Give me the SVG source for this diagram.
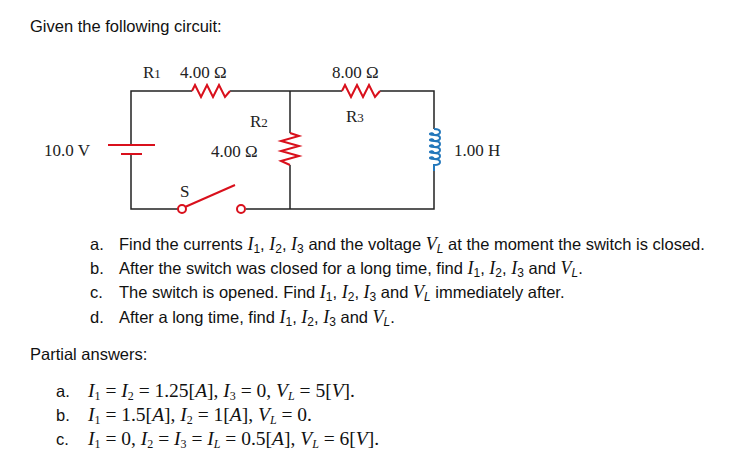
<svg xmlns="http://www.w3.org/2000/svg" width="741" height="465" viewBox="0 0 741 465">
<style>
.w{stroke:#222;stroke-width:1.5;fill:none}
.r{stroke:#d9101c;stroke-width:2;fill:none}
.t{font-family:"Liberation Sans",Arial,sans-serif;font-size:16.5px;fill:#111}
.c{font-family:"Liberation Serif",serif;font-size:17px;fill:#222}
.m{font-family:"Liberation Serif",serif;font-size:19.5px;fill:#111}
.i{font-family:"Liberation Serif",serif;font-style:italic;font-size:18px}
.s{font-size:12px;baseline-shift:-3px}
</style>
<rect width="741" height="465" fill="#fff"/>
<g id="connectors">
<polyline class="w" points="131,145 131,91 192,91"/>
<polyline class="w" points="230,91 342,91"/>
<polyline class="w" points="380,91 434,91 434,129"/>
<polyline class="w" points="434,171 434,209 246,209"/>
<polyline class="w" points="131,154 131,209 178,209"/>
<line class="w" x1="290" y1="91" x2="290" y2="133"/>
<line class="w" x1="290" y1="165" x2="290" y2="209"/>
</g>
<g id="R1"><polyline class="r" points="192,91 195,85 201,97 207,85 213,97 219,85 225,97 230,91"/><text class="c" x="143" y="78">R<tspan font-size="13">1</tspan></text><text class="c" x="180" y="78">4.00 Ω</text></g>
<g id="R3"><polyline class="r" points="342,91 345,85 351,97 357,85 363,97 369,85 375,97 380,91"/><text class="c" x="332" y="78">8.00 Ω</text><text class="c" x="346" y="122">R<tspan font-size="13">3</tspan></text></g>
<g id="R2"><polyline class="r" points="290,133 299,136 281,141 299,146 281,151 299,156 281,161 290,165"/><text class="c" x="250" y="127">R<tspan font-size="13">2</tspan></text><text class="c" x="211" y="157">4.00 Ω</text></g>
<g id="battery"><line class="r" x1="108" y1="145" x2="155" y2="145" stroke-width="1.2"/><line class="r" x1="121" y1="154" x2="142" y2="154" stroke-width="4"/><text class="c" x="44" y="156">10.0 V</text></g>
<g id="L"><path d="M434,129 c8,0 8,6 0,6 c-8,0 -2,-4 0,0 c8,0 8,6 0,6 c-8,0 -2,-4 0,0 c8,0 8,6 0,6 c-8,0 -2,-4 0,0 c8,0 8,6 0,6 c-8,0 -2,-4 0,0 c8,0 8,6 0,6 c-8,0 -2,-4 0,0 c8,0 8,6 0,6 L434,171" stroke="#2277bb" stroke-width="2" fill="none"/><text class="c" x="454" y="156">1.00 H</text></g>
<g id="S"><circle class="r" cx="182" cy="209" r="4" stroke-width="1.5"/><circle class="r" cx="241" cy="209" r="4" stroke-width="1.5"/><line class="r" x1="185" y1="207" x2="235" y2="185"/><text class="c" x="180" y="197">S</text></g>
<g id="text">
<text class="t" x="30" y="32">Given the following circuit:</text>
<text class="t" x="90" y="250">a.</text><text class="t" x="119" y="250">Find the currents <tspan class="i">I</tspan><tspan class="s">1</tspan>, <tspan class="i">I</tspan><tspan class="s">2</tspan>, <tspan class="i">I</tspan><tspan class="s">3</tspan> and the voltage <tspan class="i">V</tspan><tspan class="s" font-style="italic">L</tspan> at the moment the switch is closed.</text>
<text class="t" x="90" y="274">b.</text><text class="t" x="119" y="274">After the switch was closed for a long time, find <tspan class="i">I</tspan><tspan class="s">1</tspan>, <tspan class="i">I</tspan><tspan class="s">2</tspan>, <tspan class="i">I</tspan><tspan class="s">3</tspan> and <tspan class="i">V</tspan><tspan class="s" font-style="italic">L</tspan>.</text>
<text class="t" x="90" y="298">c.</text><text class="t" x="119" y="298">The switch is opened. Find <tspan class="i">I</tspan><tspan class="s">1</tspan>, <tspan class="i">I</tspan><tspan class="s">2</tspan>, <tspan class="i">I</tspan><tspan class="s">3</tspan> and <tspan class="i">V</tspan><tspan class="s" font-style="italic">L</tspan> immediately after.</text>
<text class="t" x="90" y="323">d.</text><text class="t" x="119" y="323">After a long time, find <tspan class="i">I</tspan><tspan class="s">1</tspan>, <tspan class="i">I</tspan><tspan class="s">2</tspan>, <tspan class="i">I</tspan><tspan class="s">3</tspan> and <tspan class="i">V</tspan><tspan class="s" font-style="italic">L</tspan>.</text>
<text class="t" x="30" y="360">Partial answers:</text>
<text class="t" x="56" y="397">a.</text><text class="m" x="88" y="397"><tspan font-style="italic">I</tspan><tspan class="s">1</tspan> = <tspan font-style="italic">I</tspan><tspan class="s">2</tspan> = 1.25[<tspan font-style="italic">A</tspan>], <tspan font-style="italic">I</tspan><tspan class="s">3</tspan> = 0, <tspan font-style="italic">V</tspan><tspan class="s" font-style="italic">L</tspan> = 5[<tspan font-style="italic">V</tspan>].</text>
<text class="t" x="56" y="421">b.</text><text class="m" x="88" y="421"><tspan font-style="italic">I</tspan><tspan class="s">1</tspan> = 1.5[<tspan font-style="italic">A</tspan>], <tspan font-style="italic">I</tspan><tspan class="s">2</tspan> = 1[<tspan font-style="italic">A</tspan>], <tspan font-style="italic">V</tspan><tspan class="s" font-style="italic">L</tspan> = 0.</text>
<text class="t" x="56" y="445">c.</text><text class="m" x="88" y="445"><tspan font-style="italic">I</tspan><tspan class="s">1</tspan> = 0, <tspan font-style="italic">I</tspan><tspan class="s">2</tspan> = <tspan font-style="italic">I</tspan><tspan class="s">3</tspan> = <tspan font-style="italic">I</tspan><tspan class="s" font-style="italic">L</tspan> = 0.5[<tspan font-style="italic">A</tspan>], <tspan font-style="italic">V</tspan><tspan class="s" font-style="italic">L</tspan> = 6[<tspan font-style="italic">V</tspan>].</text>
</g>
</svg>
